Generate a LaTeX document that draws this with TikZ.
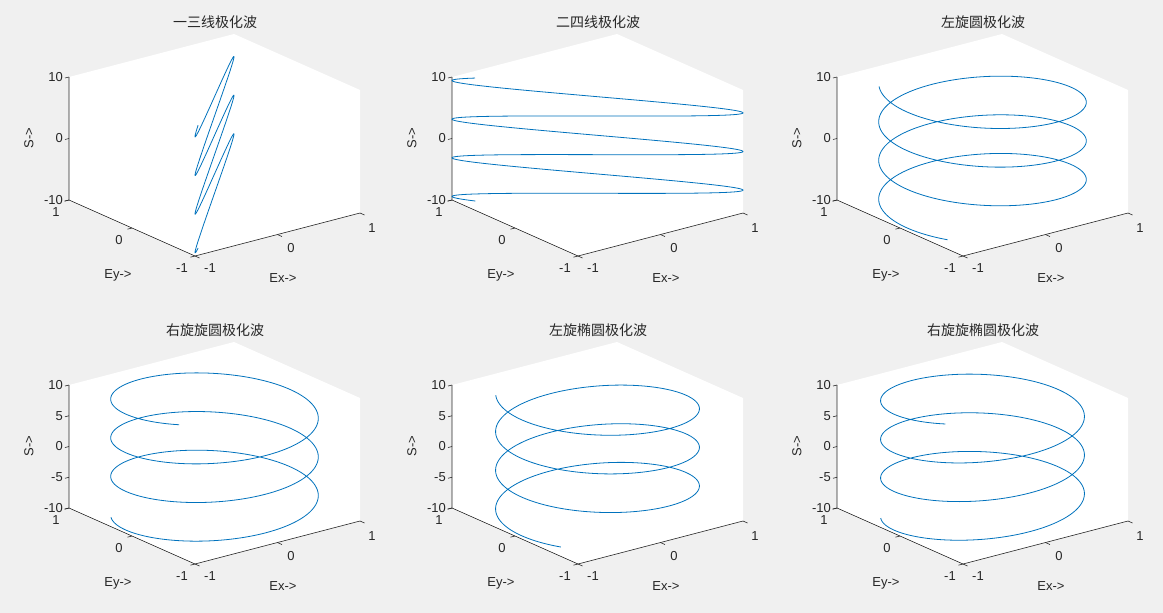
\documentclass[tikz,border=0pt]{standalone}
\usepackage{fontspec}
\setmainfont{Liberation Sans}
\newfontfamily\cjk{Noto Sans CJK SC}
\definecolor{bgc}{HTML}{F0F0F0}
\definecolor{axc}{HTML}{262626}
\definecolor{crv}{HTML}{0072BD}
\tikzset{
  axl/.style={draw=axc, line width=0.6pt},
  tk/.style={text=axc, font=\fontsize{13}{13}\selectfont, inner sep=0pt},
  ttl/.style={text=axc, font=\cjk\fontsize{14}{14}\selectfont, inner sep=0pt},
  wave/.style={draw=crv, line width=0.8pt, line join=round}
}
\newcommand\mypanel[6]{%
\begin{scope}[shift={(#1,#2)}]
  \fill[white] (69,77) -- (234,34) -- (360,90) -- (360,213) -- (195,256) -- (69,200) -- cycle;
  \coordinate (L) at (69,200);
  \coordinate (F) at (195,256);
  \coordinate (R) at (360,213);
  \coordinate (T) at (69,77);
  \draw[axl] (T) -- (L) -- (F) -- (R);
  \foreach \v in {#6} {
    \draw[axl] (69,{200-(\v+10)*6.15}) -- ++(-4,1);
    \node[tk, anchor=east] at (63,{200-(\v+10)*6.15}) {\v};
  }
  \foreach \v/\lab in {1/1,0/0,-1/-1} {
    \draw[axl] ({195-(\v+1)*63},{256-(\v+1)*28}) -- ++(-4.6,1.2);
    \node[tk] at ({182-(\v+1)*63},{268-(\v+1)*28}) {\lab};
    \draw[axl] ({195+(\v+1)*82.5},{256-(\v+1)*21.5}) -- ++(4.4,2);
    \node[tk] at ({210+(\v+1)*81},{268-(\v+1)*20}) {\lab};
  }
  \node[tk] at (118,275) {Ey->};
  \node[tk] at (283,278) {Ex->};
  \node[tk, rotate=90] at (29,138) {S->};
  \node[ttl] at (215,22) {#3};
  \draw[wave] plot[domain=-10:10, samples=500, variable=\t]
    ({195+((#4)+1)*82.5-((#5)+1)*63},{256-((#4)+1)*21.5-((#5)+1)*28-(\t+10)*6.15});
\end{scope}}
\begin{document}
\begin{tikzpicture}[x=1pt,y=-1pt]
\fill[bgc] (0,0) rectangle (1163,613);
\useasboundingbox (0,0) rectangle (1163,613);
\mypanel{0}{0}{一三线极化波}{cos(\t r)}{cos(\t r)}{10,0,-10}
\mypanel{383}{0}{二四线极化波}{cos(\t r)}{-cos(\t r)}{10,0,-10}
\mypanel{768}{0}{左旋圆极化波}{cos(\t r)}{-sin(\t r)}{10,0,-10}
\mypanel{0}{308}{右旋旋圆极化波}{cos(\t r)}{sin(\t r)}{10,5,0,-5,-10}
\mypanel{383}{308}{左旋椭圆极化波}{cos(\t r)}{-0.95*sin(\t r)}{10,5,0,-5,-10}
\mypanel{768}{308}{右旋旋椭圆极化波}{cos(\t r)}{0.95*sin(\t r)}{10,5,0,-5,-10}
\end{tikzpicture}
\end{document}
